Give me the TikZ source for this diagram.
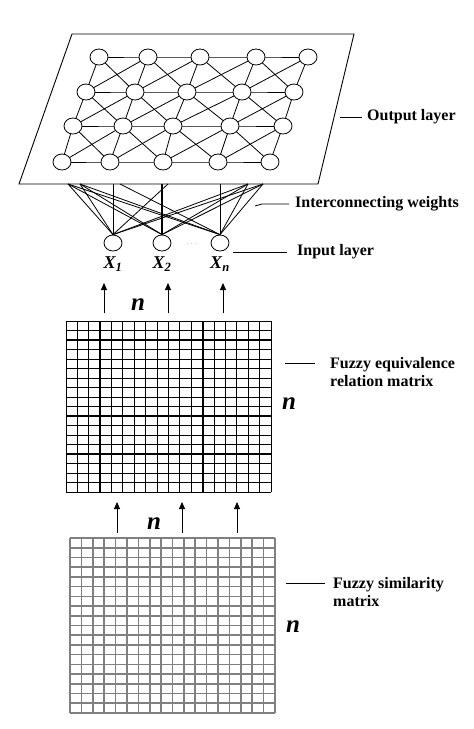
\documentclass[tikz,border=0pt]{standalone}
\usepackage{fontspec}
\setmainfont{Liberation Serif}
\usetikzlibrary{arrows.meta,shapes.geometric}

\begin{document}
\begin{tikzpicture}[x=1pt,y=-1pt,
    neuron/.style={draw, fill=white, ellipse, minimum width=18pt, minimum height=16pt, inner sep=0pt, line width=0.8pt},
    link/.style={line width=0.8pt},
    lbl/.style={anchor=west, font=\fontsize{16}{18}\selectfont\bfseries, align=left, inner sep=0pt},
    size/.style={font=\fontsize{25}{25}\selectfont\bfseries\itshape, inner sep=0pt},
    up/.style={-{Triangle[length=7pt,width=6pt]}, line width=0.9pt},
    tick/.style={line width=0.8pt}]
  \useasboundingbox (0,0) rectangle (474,729);

  % output layer
  \draw[line width=0.9pt] (72,34) -- (354,34) -- (318,184) -- (19,184) -- cycle;
  \foreach \r/\y/\xs in {1/57/{99,148,200,256,308},
                         2/92/{86,135,187,242,294},
                         3/126/{73,123,173,230,283},
                         4/162/{62,110,163,218,270}}
    \foreach \x [count=\c] in \xs
      \coordinate (o-\r-\c) at (\x,\y);
  \foreach \r in {1,...,4}
    \draw[link] (o-\r-1) -- (o-\r-2) -- (o-\r-3) -- (o-\r-4) -- (o-\r-5);
  \foreach \r [evaluate=\r as \s using int(\r+1)] in {1,2,3}
    \foreach \c in {1,...,5} {
      \draw[link] (o-\r-\c) -- (o-\s-\c);
      \ifnum\c>1 \draw[link] (o-\r-\c) -- (o-\s-\the\numexpr\c-1\relax); \fi
      \ifnum\c<5 \draw[link] (o-\r-\c) -- (o-\s-\the\numexpr\c+1\relax); \fi
    }
  \foreach \r in {1,...,4}
    \foreach \c in {1,...,5}
      \node[neuron] at (o-\r-\c) {};

  % input layer
  \node[neuron] (x1) at (113,243) {};
  \node[neuron] (x2) at (162,243) {};
  \node[neuron] (xn) at (220,243) {};
  \node[text=gray, font=\small] (dots) at (192,244) {$\cdots$};
  \foreach \t [count=\i] in {68,80,248,263}
    \coordinate (w\i) at (\t,184);
  \foreach \x in {x1,x2,xn}
    \foreach \i in {1,...,4}
      \draw[link] (\x.north) -- (w\i);
  \draw[link] (x1.north) -- (x1.north |- w1);
  \draw[line width=1.6pt] (x2.north) -- (x2.north |- w1);
  \draw[link] (xn.north) -- (xn.north |- w1);
  \draw[link] (x1.north) -- (168,184);
  \draw[link] (xn.north) -- (120,184);
  \foreach \x/\s in {x1/1,x2/2,xn/n}
    \node[font=\fontsize{18}{18}\selectfont\bfseries\itshape] at ([yshift=-21pt]\x) {X\textsubscript{\s}};

  % fuzzy equivalence relation matrix
  \foreach \i in {0,...,18} {
    \draw[line width=0.9pt] ({66+\i*205/18},321) -- ({66+\i*205/18},492);
    \draw[line width=0.9pt] (66,{321+\i*171/18}) -- (271,{321+\i*171/18});
  }
  \foreach \i in {3,12}
    \draw[line width=1.8pt] ({66+\i*205/18},321) -- ({66+\i*205/18},492);
  \foreach \i in {2,10,14}
    \draw[line width=1.8pt] (66,{321+\i*171/18}) -- (271,{321+\i*171/18});

  % fuzzy similarity matrix
  \foreach \i in {0,...,18} {
    \draw[black!50, line width=1.6pt] ({70+\i*205/18},538) -- ({70+\i*205/18},713);
    \draw[black!50, line width=1.6pt] (70,{538+\i*175/18}) -- (275,{538+\i*175/18});
  }

  % arrows
  \foreach \x/\t in {104/x1,168/x2,223/xn} {
    \coordinate (a\t) at (\x,313);
    \draw[up] (a\t) -- (\x,283);
  }
  \foreach \x [count=\i] in {117,182,237} {
    \coordinate (b\i) at (\x,533);
    \draw[up] (b\i) -- (\x,502);
  }

  % sizes
  \node[size] (n1) at (138,305) {n};
  \node[size] (n2) at (289,404) {n};
  \node[size] (n3) at (154,524) {n};
  \node[size] (n4) at (293,627) {n};

  % labels
  \node[lbl] (out) at (367,117) {Output layer};
  \draw[tick] (340,117) -- ([xshift=-5pt]out.west);
  \node[lbl] (iw) at (295,204) {Interconnecting weights};
  \draw[tick] (255,206) -- (262,204) -- ([xshift=-6pt]iw.west);
  \node[lbl] (inl) at (297,252) {Input layer};
  \draw[tick] (233,252) -- ([xshift=-10pt]inl.west);
  \node[lbl] (fer) at (330,372) {Fuzzy equivalence\\relation matrix};
  \draw[tick] (285,363) -- (315,363);
  \node[lbl] (fsm) at (333,592) {Fuzzy similarity\\matrix};
  \draw[tick] (286,583) -- (325,583);
\end{tikzpicture}
\end{document}
